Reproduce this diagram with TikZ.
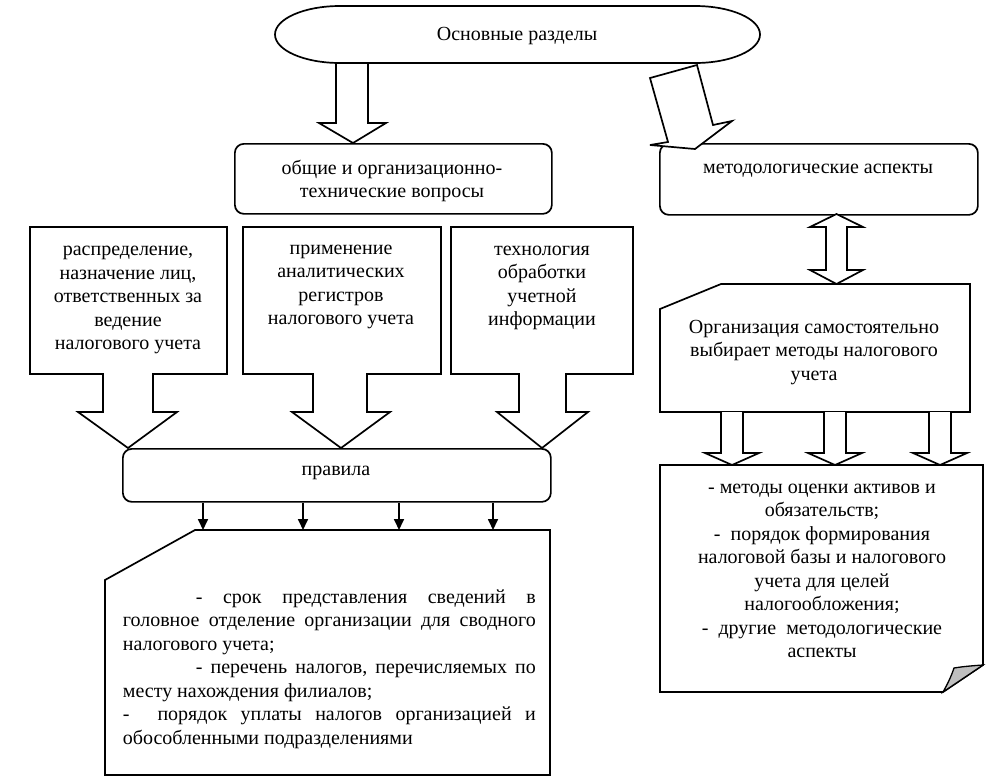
\documentclass[tikz,border=0pt]{standalone}
\usepackage{fontspec}
\setmainfont{Liberation Serif}
\usetikzlibrary{arrows.meta}
\begin{document}
\begin{tikzpicture}[x=1pt,y=-1pt,line width=1.7pt,line join=miter,miter limit=6,
 txt/.style={font=\fontsize{20}{23.5}\selectfont, align=center, inner sep=0pt},
 shp/.style={draw=black, fill=white},
 rbox/.style={draw=black, fill=white, rounded corners=9pt},
 tipar/.style={-{Triangle[length=11pt,width=10pt]}}]
\useasboundingbox (0,0) rectangle (998,780);
\fill[white] (0,0) rectangle (998,780);

% top down arrow
\draw[shp] (336,63) -- (336,123) -- (319,123) -- (353,143) -- (386,123) -- (368,123) -- (368,63);
% ellipse
\draw[shp] (340,6) -- (695,6) .. controls (730.9,6) and (760,18.8) .. (760,34.5) .. controls (760,50.2) and (730.9,63) .. (695,63) -- (340,63) .. controls (304.1,63) and (275,50.2) .. (275,34.5) .. controls (275,18.8) and (304.1,6) .. (340,6) -- cycle;
\node[txt] (main) at (517,36.5) {Основные разделы};

% general box
\node[rbox, minimum width=317pt, minimum height=70pt, anchor=north west] (gen) at (234,143) {};
\node[txt] (gent) at (392,181) {общие и организационно-\\технические вопросы};

% methodological box
\node[rbox, minimum width=318pt, minimum height=71pt, anchor=north west] (met) at (659,143) {};
\node[txt] (mett) at (818,171) {методологические аспекты};

% diagonal arrow
\draw[shp] (650,78) -- (697,65) -- (713,125) -- (732,121) -- (695,149) -- (650,145) -- (668,142) -- cycle;

% callouts
\draw[shp] (30,227) -- (227,227) -- (227,374) -- (153,374) -- (153,412) -- (177,412) -- (128,448) -- (78,412) -- (103,412) -- (103,374) -- (30,374) -- cycle;
\draw[shp] (243,227) -- (441,227) -- (441,374) -- (367,374) -- (367,412) -- (390,412) -- (341,448) -- (292,412) -- (313,412) -- (313,374) -- (243,374) -- cycle;
\draw[shp] (451,227) -- (633,227) -- (633,374) -- (566,374) -- (566,412) -- (588,412) -- (542,448) -- (497,412) -- (519,412) -- (519,374) -- (451,374) -- cycle;
\node[txt] (c1) at (128,300) {распределение,\\назначение лиц,\\ответственных за\\ведение\\налогового учета};
\node[txt] (c2) at (341,287) {применение\\аналитических\\регистров\\налогового учета};
\node[txt] (c3) at (542,288) {технология\\обработки\\учетной\\информации};

% rules box
\node[rbox, minimum width=428pt, minimum height=53pt, anchor=north west] (prav) at (122,448) {};
\node[txt] (pravt) at (336,473) {правила};

% bottom-left box
\draw[shp] (195,530) -- (550,530) -- (550,775) -- (105,775) -- (105,580) -- cycle;
\foreach \x [count=\i] in {203,303,399,493} {
  \coordinate (p\i) at (\x,530);
  \draw[tipar] (prav.south -| p\i) -- (p\i);
}
\node[anchor=north west, inner sep=0pt, align=left, font=\fontsize{20}{23.5}\selectfont] (lt) at (122,585.5) {%
\rule{0pt}{17pt}\hbox to 413pt{\hspace*{73pt}-\hfill срок\hfill представления\hfill сведений\hfill в}\\
\hbox to 413pt{головное\hfill отделение\hfill организации\hfill для\hfill сводного}\\
налогового учета;\\
\hbox to 413pt{\hspace*{73pt}-\hfill перечень\hfill налогов,\hfill перечисляемых\hfill по}\\
месту нахождения филиалов;\\
\hbox to 413pt{-\hspace*{28pt}порядок\hfill уплаты\hfill налогов\hfill организацией\hfill и}\\
обособленными подразделениями};

% double arrow
\draw[shp] (836.5,214) -- (863,227) -- (847,227) -- (847,270) -- (863,270) -- (836.5,284) -- (810,270) -- (826,270) -- (826,227) -- (810,227) -- cycle;

% organisation box
\draw[shp] (660,309) -- (721,284) -- (970,284) -- (970,412) -- (660,412) -- cycle;
\node[txt] (org) at (814,352.5) {Организация самостоятельно\\выбирает методы налогового\\учета};

% three arrows
\foreach \c in {732,835,940} {
  \draw[shp] ({\c-11},412) -- ({\c-11},453) -- ({\c-27},453) -- (\c,465) -- ({\c+27},453) -- ({\c+11},453) -- ({\c+11},412);
}

% bottom-right box
\draw[shp] (660,465) -- (983,465) -- (983,665) -- (943,692) -- (660,692) -- cycle;
\draw[fill=black!25, line width=1.3pt] (943,692) -- (983,665) .. controls (968,666) and (960,667) .. (954,668) .. controls (951,677) and (947,685) .. (943,692) -- cycle;
\node[txt] (mt) at (822,571) {- методы оценки активов и\\обязательств;\\-~ порядок формирования\\налоговой базы и налогового\\учета для целей\\налогообложения;\\-~ другие~ методологические\\аспекты};
\end{tikzpicture}
\end{document}
